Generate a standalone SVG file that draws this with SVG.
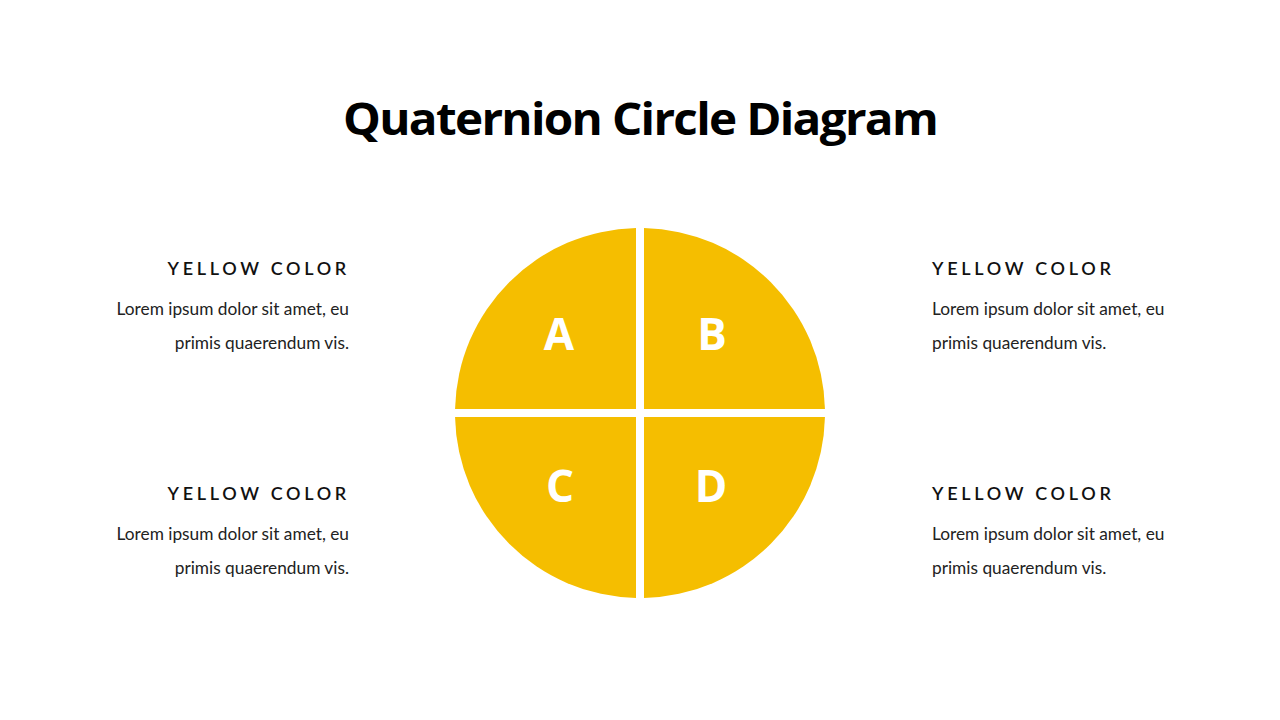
<svg xmlns="http://www.w3.org/2000/svg" width="1280" height="720" viewBox="0 0 1280 720">
<style>
.title{font-family:"Open Sans","Noto Sans",sans-serif;font-weight:700;font-size:45px;fill:#000;letter-spacing:-1.6px}
.q{fill:#F5BE00}
.lt{font-family:"Open Sans","Noto Sans",sans-serif;font-weight:700;font-size:44px;fill:#fff;text-anchor:middle}
.hd{font-family:Lato,"Open Sans",sans-serif;font-size:18px;font-weight:600;fill:#111;letter-spacing:3.7px}
.bd{font-family:Lato,"Open Sans",sans-serif;font-size:17.3px;fill:#222}
.r{text-anchor:end}
</style>
<rect width="1280" height="720" fill="#fff"/>
<text class="title" x="640" y="135" text-anchor="middle" textLength="594" lengthAdjust="spacingAndGlyphs">Quaternion Circle Diagram</text>
<g id="quadA"><path class="q" d="M636,409 L636,228.04 A185,185 0 0,0 455.04,409 Z"/><text class="lt" x="559" y="350">A</text></g>
<g id="quadB"><path class="q" d="M644,409 L824.96,409 A185,185 0 0,0 644,228.04 Z"/><text class="lt" x="712" y="350">B</text></g>
<g id="quadC"><path class="q" d="M636,417 L455.04,417 A185,185 0 0,0 636,597.96 Z"/><text class="lt" x="560" y="502">C</text></g>
<g id="quadD"><path class="q" d="M644,417 L644,597.96 A185,185 0 0,0 824.96,417 Z"/><text class="lt" x="711" y="502">D</text></g>
<g id="connectors"/>
<g id="textTL">
<text class="hd r" x="350" y="275">YELLOW COLOR</text>
<text class="bd r" x="349" y="315">Lorem ipsum dolor sit amet, eu</text>
<text class="bd r" x="349" y="349">primis quaerendum vis.</text>
</g>
<g id="textTR">
<text class="hd" x="932" y="275">YELLOW COLOR</text>
<text class="bd" x="932" y="315">Lorem ipsum dolor sit amet, eu</text>
<text class="bd" x="932" y="349">primis quaerendum vis.</text>
</g>
<g id="textBL">
<text class="hd r" x="350" y="500">YELLOW COLOR</text>
<text class="bd r" x="349" y="540">Lorem ipsum dolor sit amet, eu</text>
<text class="bd r" x="349" y="574">primis quaerendum vis.</text>
</g>
<g id="textBR">
<text class="hd" x="932" y="500">YELLOW COLOR</text>
<text class="bd" x="932" y="540">Lorem ipsum dolor sit amet, eu</text>
<text class="bd" x="932" y="574">primis quaerendum vis.</text>
</g>
</svg>
